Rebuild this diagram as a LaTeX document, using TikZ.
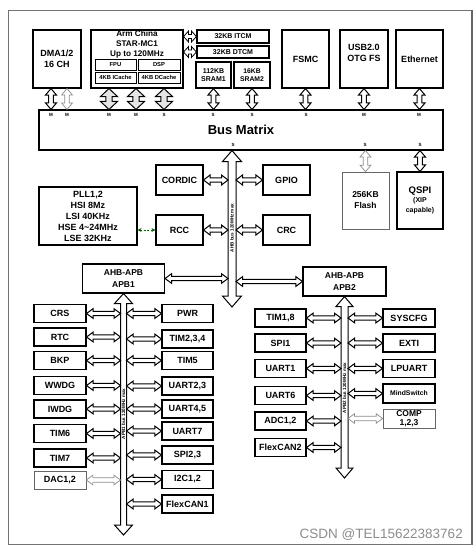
\documentclass[tikz,border=0pt]{standalone}
\usepackage{fontspec}
\setmainfont{Liberation Sans}
\usetikzlibrary{calc,arrows.meta}

% horizontal hollow double arrow: [opts]{shaft half}{head half}{head length}{left end}{right end}
\newcommand\hdarrow[6][]{%
  \draw[harrow,#1] let \p1=(#5), \p2=(#6) in
    (\x1,\y1) -- (\x1+#4,\y1+#3) -- (\x1+#4,\y1+#2) -- (\x2-#4,\y1+#2)
    -- (\x2-#4,\y1+#3) -- (\x2,\y1) -- (\x2-#4,\y1-#3) -- (\x2-#4,\y1-#2)
    -- (\x1+#4,\y1-#2) -- (\x1+#4,\y1-#3) -- cycle;}
% vertical hollow double arrow: [opts]{shaft half}{head half}{head length}{top end}{bottom end}
\newcommand\vdarrow[6][]{%
  \draw[harrow,#1] let \p1=(#5), \p2=(#6) in
    (\x1,\y1) -- (\x1+#3,\y1-#4) -- (\x1+#2,\y1-#4) -- (\x1+#2,\y2+#4)
    -- (\x1+#3,\y2+#4) -- (\x1,\y2) -- (\x1-#3,\y2+#4) -- (\x1-#2,\y2+#4)
    -- (\x1-#2,\y1-#4) -- (\x1-#3,\y1-#4) -- cycle;}
\newcommand\rarr[3][]{\hdarrow[#1]{2.2pt}{4.8pt}{6.5pt}{#2}{#3}}
\newcommand\tarr[3][]{\vdarrow[#1]{2.3pt}{5.5pt}{6.5pt}{#2}{#3}}

\begin{document}
\begin{tikzpicture}[x=1pt,y=-1pt,
  harrow/.style={draw=black, fill=white, line width=1pt, line join=miter},
  light/.style={draw=black!45, line width=0.7pt},
  box/.style={draw, line width=1.1pt, fill=white, inner sep=0pt, align=center,
    font=\bfseries\fontsize{9}{11}\selectfont},
  lightbox/.style={draw=black!60, line width=0.7pt},
  rowbox/.style={box, minimum width=52pt, minimum height=18pt},
  small/.style={box, line width=0.7pt, font=\bfseries\fontsize{5.8}{7}\selectfont},
  ms/.style={font=\bfseries\fontsize{4.5}{5}\selectfont, inner sep=0pt},
  buslbl/.style={rotate=90, font=\bfseries\fontsize{4.6}{5}\selectfont, inner sep=0pt},
  txt/.style={inner sep=0pt, align=center}
]
\useasboundingbox (0,0) rectangle (474,547);
\fill[white] (0,0) rectangle (474,547);
\draw[black!55, line width=0.8pt] (8,10) rectangle (472,544);
\draw[black!60, line width=2pt] (472,10) -- (472,544);

% ---------- top row ----------
\node[box, minimum width=48pt, minimum height=58pt] (dma) at (57,59) {DMA1/2\\16 CH};
\node[box, minimum width=92pt, minimum height=58pt] (arm) at (137,59) {};
\node[txt, font=\bfseries\fontsize{8.2}{10}\selectfont] (armtxt) at (137,44) {Arm China\\STAR-MC1\\Up to 120MHz};
\node[small, minimum width=41pt, minimum height=11pt] (fpu) at (115.5,64.5) {FPU};
\node[small, minimum width=42pt, minimum height=11pt] (dsp) at (159,64.5) {DSP};
\node[small, minimum width=41pt, minimum height=11pt] (icache) at (115.5,77.5) {4KB ICache};
\node[small, minimum width=42pt, minimum height=11pt] (dcache) at (159,77.5) {4KB DCache};
\node[box, minimum width=72pt, minimum height=13pt, font=\bfseries\fontsize{7}{8}\selectfont] (itcm) at (233,36.5) {32KB ITCM};
\node[box, minimum width=72pt, minimum height=12pt, font=\bfseries\fontsize{7}{8}\selectfont] (dtcm) at (233,52) {32KB DTCM};
\node[box, minimum width=35pt, minimum height=26pt, font=\bfseries\fontsize{7}{8.5}\selectfont] (sram1) at (213.5,75) {112KB\\SRAM1};
\node[box, minimum width=36pt, minimum height=26pt, font=\bfseries\fontsize{6.8}{8.5}\selectfont] (sram2) at (252,75) {16KB\\SRAM2};
\node[box, minimum width=47pt, minimum height=58pt] (fsmc) at (305.5,59) {FSMC};
\node[box, minimum width=48pt, minimum height=58pt] (usb) at (364,59) {};
\node[txt, font=\bfseries\fontsize{9}{11}\selectfont] (usbtxt) at (364,52.5) {USB2.0\\OTG FS};
\node[box, minimum width=47pt, minimum height=58pt] (eth) at (419.5,59) {Ethernet};

\hdarrow[line width=0.8pt]{2pt}{5.5pt}{5pt}{arm.east |- itcm.west}{itcm.west}
\hdarrow[line width=0.8pt]{2pt}{5.5pt}{5pt}{arm.east |- dtcm.west}{dtcm.west}

% ---------- bus matrix ----------
\node[box, minimum width=404pt, minimum height=40pt, font=\bfseries\fontsize{13}{14}\selectfont] (bus) at (241,130) {Bus Matrix};

\tarr{$(dma.south)+(-6,0)$}{bus.north}
\tarr[light]{$(dma.south)+(10,0)$}{bus.north}
\vdarrow[fill=black!10]{3.2pt}{8.5pt}{8pt}{$(arm.south)+(-28,0)$}{bus.north}
\vdarrow[fill=black!10]{3.2pt}{8.5pt}{8pt}{$(arm.south)+(-1,0)$}{bus.north}
\vdarrow[fill=black!10]{3.2pt}{8.5pt}{8pt}{$(arm.south)+(27,0)$}{bus.north}
\tarr{sram1.south}{bus.north}
\tarr{sram2.south}{bus.north}
\tarr{fsmc.south}{bus.north}
\tarr{usb.south}{bus.north}
\tarr{eth.south}{bus.north}

\node[ms] (m1) at (51,115) {M};
\node[ms] (m2) at (67,115) {M};
\node[ms] (m3) at (109,115) {M};
\node[ms] (m4) at (136,115) {M};
\node[ms] (s1) at (164,115) {S};
\node[ms] (s2) at (213,115) {S};
\node[ms] (s3) at (252,115) {S};
\node[ms] (s4) at (306,115) {S};
\node[ms] (m5) at (364,115) {M};
\node[ms] (m6) at (419,115) {M};
\node[ms] (s5) at (233,145) {S};
\node[ms] (s6) at (365,145) {S};
\node[ms] (s7) at (420,145) {S};

% ---------- AHB area ----------
\coordinate (ahbend) at (232,307);
\coordinate (ahbL) at (228,200);
\coordinate (ahbR) at (236,200);
\vdarrow{4pt}{9.5pt}{11pt}{$(bus.south)+(-9,0)$}{ahbend}
\node[buslbl] (ahblbl) at (232,228) {AHB bus 120MHz max};

\node[box, minimum width=47pt, minimum height=30pt] (cordic) at (179.5,180) {CORDIC};
\node[box, minimum width=47pt, minimum height=30pt] (gpio) at (286.5,180) {GPIO};
\node[box, minimum width=47pt, minimum height=30pt] (rcc) at (179.5,230) {RCC};
\node[box, minimum width=47pt, minimum height=30pt] (crc) at (286.5,230) {CRC};
\hdarrow{2.2pt}{5pt}{6.5pt}{cordic.east}{cordic.east -| ahbL}
\hdarrow{2.2pt}{5pt}{6.5pt}{ahbR |- gpio.west}{gpio.west}
\hdarrow{2.2pt}{5pt}{6.5pt}{rcc.east}{rcc.east -| ahbL}
\hdarrow{2.2pt}{5pt}{6.5pt}{ahbR |- crc.west}{crc.west}

\node[box, minimum width=98pt, minimum height=58pt] (pll) at (88,216) {PLL1,2\\HSI 8Mz\\LSI 40KHz\\HSE 4\textasciitilde24MHz\\LSE 32KHz};
\draw[green!40!black, line width=0.6pt, dash pattern=on 2pt off 1.5pt,
  {Stealth[length=4pt,width=4pt]}-{Stealth[length=4pt,width=4pt]}] (pll.east |- rcc.west) -- (rcc.west);

\node[box, lightbox, minimum width=47pt, minimum height=57pt, font=\bfseries\fontsize{8.5}{11}\selectfont] (flash) at (365.5,200.5) {256KB\\Flash};
\node[box, minimum width=46pt, minimum height=57pt, font=\bfseries\fontsize{9.5}{10}\selectfont] (qspi) at (420,200.5)
  {QSPI\\[-0.5pt]\fontsize{7}{9}\selectfont (XIP\\\fontsize{7}{9}\selectfont capable)};
\tarr[light]{flash.north |- bus.south}{flash.north}
\tarr{qspi.north |- bus.south}{qspi.north}

% ---------- bridges ----------
\node[box, minimum width=82pt, minimum height=29pt, font=\bfseries\fontsize{8.5}{11.5}\selectfont] (apb1) at (123.5,278.5) {AHB-APB\\APB1};
\node[box, minimum width=83pt, minimum height=29pt, font=\bfseries\fontsize{8.5}{11.5}\selectfont] (apb2) at (344.5,281.5) {AHB-APB\\APB2};
\rarr{apb1.east}{apb1.east -| ahbL}
\rarr{ahbR |- apb2.west}{apb2.west}

% ---------- APB1 ----------
\coordinate (apb1end) at (123.5,535);
\coordinate (apb1L) at (120.5,400);
\coordinate (apb1R) at (126.5,400);
\vdarrow{3pt}{9pt}{10pt}{apb1.south}{apb1end}
\node[buslbl] (apb1lbl) at (123.5,414) {APB1 bus 120MHz max};

\node[rowbox] (crs) at (60,313.5) {CRS};
\node[rowbox] (rtc) at (60,337) {RTC};
\node[rowbox] (bkp) at (60,360.5) {BKP};
\node[rowbox] (wwdg) at (60,385.5) {WWDG};
\node[rowbox] (iwdg) at (60,409) {IWDG};
\node[rowbox] (tim6) at (60,433.5) {TIM6};
\node[rowbox] (tim7) at (60,458) {TIM7};
\node[rowbox, lightbox] (dac) at (60,480) {DAC1,2};
\rarr{crs.east}{crs.east -| apb1L}
\rarr{rtc.east}{rtc.east -| apb1L}
\rarr{bkp.east}{bkp.east -| apb1L}
\rarr{wwdg.east}{wwdg.east -| apb1L}
\rarr{iwdg.east}{iwdg.east -| apb1L}
\rarr{tim6.east}{tim6.east -| apb1L}
\rarr{tim7.east}{tim7.east -| apb1L}
\rarr[light]{dac.east}{dac.east -| apb1L}

\node[rowbox, minimum width=51pt] (pwr) at (187.5,313.5) {PWR};
\node[rowbox, minimum width=51pt] (tim234) at (187.5,339) {TIM2,3,4};
\node[rowbox, minimum width=51pt] (tim5) at (187.5,360.5) {TIM5};
\node[rowbox, minimum width=51pt] (uart23) at (187.5,386) {UART2,3};
\node[rowbox, minimum width=51pt] (uart45) at (187.5,409) {UART4,5};
\node[rowbox, minimum width=51pt] (uart7) at (187.5,431) {UART7};
\node[rowbox, minimum width=51pt] (spi23) at (187.5,455) {SPI2,3};
\node[rowbox, minimum width=51pt] (i2c) at (187.5,479.5) {I2C1,2};
\node[rowbox, minimum width=51pt] (can1) at (187.5,504) {FlexCAN1};
\rarr{apb1R |- pwr.west}{pwr.west}
\rarr{apb1R |- tim234.west}{tim234.west}
\rarr{apb1R |- tim5.west}{tim5.west}
\rarr{apb1R |- uart23.west}{uart23.west}
\rarr{apb1R |- uart45.west}{uart45.west}
\rarr{apb1R |- uart7.west}{uart7.west}
\rarr{apb1R |- spi23.west}{spi23.west}
\rarr{apb1R |- i2c.west}{i2c.west}
\rarr{apb1R |- can1.west}{can1.west}

% ---------- APB2 ----------
\coordinate (apb2end) at (344.5,478);
\coordinate (apb2L) at (341,400);
\coordinate (apb2R) at (348,400);
\vdarrow{3.5pt}{8.5pt}{10pt}{apb2.south}{apb2end}
\node[buslbl] (apb2lbl) at (344.5,388) {APB2 bus 120MHz max};

\node[rowbox, minimum width=51pt] (tim18) at (280.5,318) {TIM1,8};
\node[rowbox, minimum width=51pt] (spi1) at (280.5,343) {SPI1};
\node[rowbox, minimum width=51pt] (uart1) at (280.5,368.5) {UART1};
\node[rowbox, minimum width=51pt] (uart6) at (280.5,395.5) {UART6};
\node[rowbox, minimum width=51pt] (adc) at (280.5,421) {ADC1,2};
\node[rowbox, minimum width=51pt] (can2) at (280.5,447.5) {FlexCAN2};
\rarr{tim18.east}{tim18.east -| apb2L}
\rarr{spi1.east}{spi1.east -| apb2L}
\rarr{uart1.east}{uart1.east -| apb2L}
\rarr{uart6.east}{uart6.east -| apb2L}
\rarr{adc.east}{adc.east -| apb2L}
\rarr{can2.east}{can2.east -| apb2L}

\node[rowbox] (syscfg) at (409,318) {SYSCFG};
\node[rowbox] (exti) at (409,343) {EXTI};
\node[rowbox] (lpuart) at (409,368.5) {LPUART};
\node[rowbox, minimum height=19pt, font=\bfseries\fontsize{6.8}{8}\selectfont] (mind) at (409,393.5) {MindSwitch};
\node[rowbox, lightbox, minimum height=19pt, font=\bfseries\fontsize{8.5}{9}\selectfont] (comp) at (409,418.5) {COMP\\1,2,3};
\rarr{apb2R |- syscfg.west}{syscfg.west}
\rarr{apb2R |- exti.west}{exti.west}
\rarr{apb2R |- lpuart.west}{lpuart.west}
\rarr{apb2R |- mind.west}{mind.west}
\rarr[light]{apb2R |- comp.west}{comp.west}

% ---------- watermark ----------
\node[anchor=east, inner sep=0pt, text=black!45, font=\fontsize{13.5}{15}\selectfont] (wm) at (463,535) {CSDN @TEL15622383762};
\end{tikzpicture}
\end{document}
